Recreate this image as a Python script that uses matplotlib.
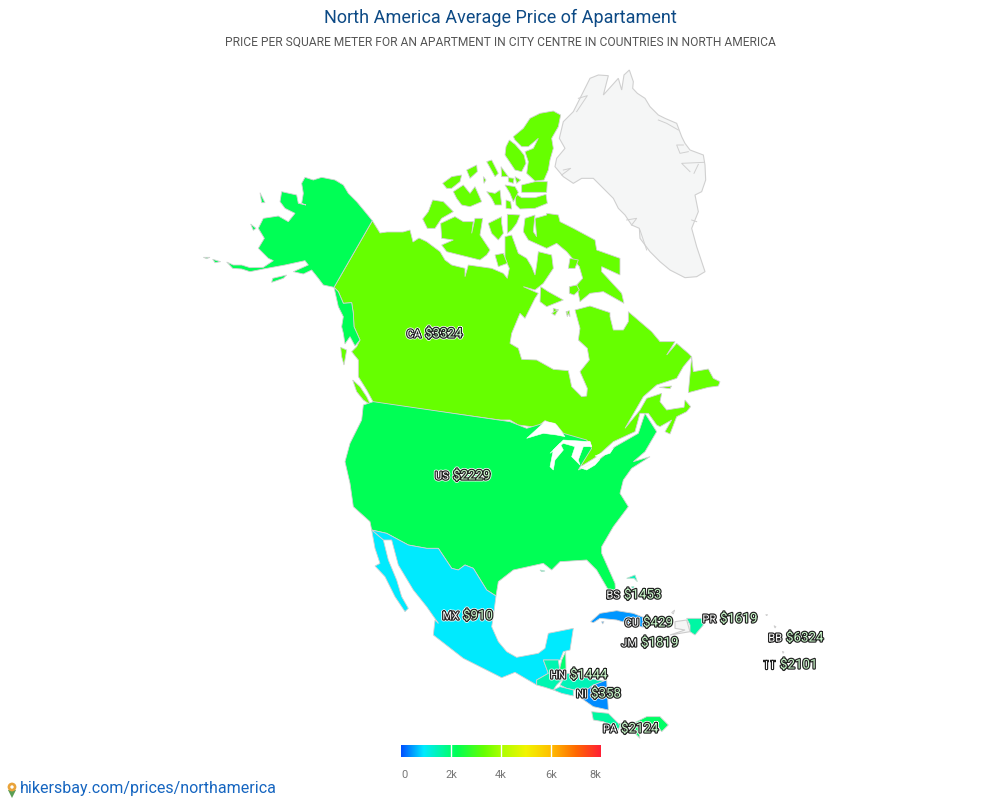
import numpy as np
import matplotlib
matplotlib.use("Agg")
import matplotlib.pyplot as plt
import matplotlib.patheffects as pe
from matplotlib.colors import LinearSegmentedColormap, Normalize
from matplotlib.patches import Polygon, Circle

plt.rcParams["font.family"] = ["Roboto", "DejaVu Sans"]

# Price data
codes = ["CA", "US", "MX", "BS", "CU", "PR", "JM", "BB", "TT", "HN", "NI", "PA"]
prices = [3324, 2229, 910, 1453, 429, 1619, 1819, 6324, 2101, 1444, 358, 2124]
label_x = [434, 462, 472, 633, 652, 729, 650, 795, 789, 579, 600, 630]
label_y = [334, 476, 616, 595, 623, 619, 643, 638, 665, 675, 694, 729]

# Countries without a label, colour estimated
other_prices = {"GT": 1500, "BZ": 2000, "SV": 1300, "CR": 1650}

# West crop outlines
alaska = [(517,152),(495,125),(470,95),(445,70),(430,45),(405,30),(365,22),(340,30),(315,22),(305,40),
          (310,70),(305,100),(318,105),(295,100),(290,75),(245,65),(240,95),(255,115),(285,130),(265,155),
          (235,138),(190,145),(175,175),(193,205),(175,235),(205,265),(220,272),(190,292),(150,293),(125,285),
          (100,285),(80,276),(98,295),(125,297),(150,305),(190,297),(255,285),(315,272),(325,285),(280,305),
          (310,312),(335,300),(355,325),(370,345),(402,352)]
panhandle = [(402,352),(415,365),(430,400),(455,398),(460,430),(462,470),(480,510),(465,528),(450,500),(435,522),
             (430,490),(425,470),(430,440),(415,410)]
kodiak = [(218,325),(260,315),(250,325),(215,337)]
aleut_a = [(10,262),(30,262),(20,266)]
aleut_b = [(38,268),(62,275),(45,278)]
nunivak = [(152,162),(168,175),(160,181)]
st_lawrence = [(180,68),(195,98),(185,98)]
vancouver_isl = [(458,630),(480,650),(500,680),(512,705),(490,690),(470,665)]
haida_gwaii = [(422,532),(440,540),(432,585),(425,560)]
canada_west = [(520,697),(500,660),(475,620),(475,570),(455,545),(470,530),(480,510),(462,470),(460,430),(455,398),
               (430,400),(415,365),(402,352),(517,152)]

# Arctic crop outlines
canada_arctic = [(-120,384),(-99,381),(-51,381),(-30,375),(-21,411),(-3,399),(20,410),(60,440),(75,465),(95,480),
                 (135,490),(135,515),(145,480),(215,490),(250,505),(262,520),(268,490),(255,460),(255,395),(275,390),
                 (295,445),(320,460),(335,485),(345,510),(350,480),(355,440),(395,450),(400,490),(370,535),(345,555),
                 (310,545),(355,565),(345,580),(315,640)]
ellesmere = [(280,95),(310,70),(330,40),(360,25),(400,18),(422,30),(415,65),(395,100),(400,130),(390,165),
             (385,195),(372,225),(345,228),(320,205),(325,170),(315,140),(340,130),(355,100),(325,125),(305,125),
             (285,105)]
axel_heiberg = [(268,105),(285,118),(300,135),(312,150),(318,175),(305,200),(285,195),(255,150),(258,125)]
devon_a = [(305,240),(345,230),(382,230),(380,262),(340,262),(305,262)]
devon_b = [(285,265),(305,278),(345,278),(378,268),(382,295),(345,310),(300,312),(288,300)]
cornwallis = [(255,240),(285,245),(295,262),(280,290),(270,265)]
little_isl = [(258,285),(272,290),(275,312),(258,310)]
isl_a = [(200,170),(215,165),(235,205),(225,215)]
isl_b = [(243,185),(265,215),(245,215)]
isl_c = [(265,218),(282,220),(280,235),(265,230)]
isl_d = [(285,215),(302,225),(290,235)]
melville_a = [(68,235),(95,215),(125,210),(120,230),(95,250),(80,250)]
melville_b = [(100,260),(130,240),(150,265),(165,245),(185,290),(150,305),(125,300),(110,280)]
byam = [(140,195),(170,180),(172,200),(150,220)]
isl_e = [(190,215),(198,225),(192,235)]
bathurst = [(200,260),(225,265),(240,255),(245,300),(225,300),(215,280)]
banks = [(38,285),(70,290),(100,320),(65,340),(45,370),(22,370),(8,342),(25,320)]
victoria = [(62,355),(105,335),(130,350),(160,350),(155,385),(165,340),(188,340),(180,390),(210,435),(200,450),
            (180,465),(120,450),(80,440),(65,420),(100,405),(65,400)]
prince_wales = [(205,355),(245,335),(245,355),(250,385),(235,405),(215,385)]
somerset = [(262,328),(300,330),(290,355),(275,375),(262,385)]
king_william = [(225,450),(250,445),(262,475),(235,485)]
baffin = [(380,325),(415,330),(420,350),(460,370),(525,405),(530,435),(600,460),(600,510),(545,485),(545,500),
          (605,565),(612,595),(550,560),(510,565),(480,590),(470,540),(488,520),(478,485),(440,440),(410,415),
          (380,430),(325,405),(310,380),(315,340),(345,330),(340,380),(350,395),(345,340),(380,330)]
prince_charles = [(450,460),(475,465),(465,490),(445,490)]
foxe_isl = [(448,545),(470,540),(478,555),(462,570),(448,565)]
southampton = [(362,545),(385,560),(430,585),(380,605),(360,590)]
coats = [(400,610),(415,615),(400,630)]
mansel = [(438,620),(447,620),(442,635)]

# East crop outlines
canada_east = [(60,40),(35,100),(30,130),(55,145),(65,178),(110,180),(160,208),(205,212),(215,260),(245,290),
               (260,288),(262,265),(240,215),(268,180),(262,145),(235,120),(240,85),(225,30),(270,18),(330,38),
               (330,50),(340,90),(370,90),(385,65),(385,35),(455,95),(480,125),(525,125),(500,165),(530,130),
               (565,160),(575,170),(550,200),(530,235),(470,255),(430,290),(375,385),(420,330),(440,295),(485,280),
               (480,305),(500,330),(530,325),(552,322),(555,300),(572,320),(560,335),(530,350),(510,402),(495,395),
               (515,360),(480,380),(470,375),(445,340),(420,340),(405,395),(340,425),(290,470),(245,498),(238,470),
               (250,440),(275,440),(270,425),(200,412),(170,375),(135,362),(110,382),(55,375),(30,360),(0,360)]
newfoundland = [(575,170),(580,215),(625,207),(640,235),(660,245),(655,258),(625,262),(565,278)]
anticosti = [(478,262),(515,258),(510,266)]
hudson_isl_a = [(155,40),(175,28),(165,46)]
hudson_isl_b = [(200,35),(208,32),(210,50)]
lake_superior = [(80,415),(135,365),(165,370),(195,410),(170,405),(130,400)]
lake_michigan = [(150,500),(160,450),(180,430),(190,450),(165,480),(160,510)]
lake_huron = [(150,460),(190,420),(270,425),(275,440),(250,440),(235,480),(240,495),(215,470),(225,440),(190,430)]
lake_erie = [(245,505),(300,478),(285,495),(260,510)]
lake_ontario = [(285,468),(340,445),(330,460),(295,470)]

# Middle crop outlines
usa = [(130,35),(540,95),(590,115),(640,100),(700,130),(770,150),(785,175),(760,215),(745,240),(800,215),
       (855,170),(925,130),(945,70),(980,125),(945,185),(910,215),(960,200),(905,235),(880,270),(870,310),
       (895,350),(850,410),(815,470),(815,490),(855,580),(858,622),(835,600),(800,540),(770,510),(690,515),
       (665,540),(640,520),(550,540),(505,575),(498,618),(470,600),(430,535),(405,525),(385,540),(365,535),
       (325,475),(290,475),(235,465),(170,430),(125,420),(120,395),(70,350),(60,280),(45,215),(60,160),
       (95,90),(100,45)]
mexico_north = [(125,420),(170,430),(235,465),(290,475),(325,475),(365,535),(385,540),(405,525),(430,535),(470,600),
                (498,618),(490,680)]
mexico_west = [(325,700),(290,650),(250,600),(205,525),(185,450),(160,450)]
baja = [(125,420),(135,475),(150,520),(135,528),(165,560),(195,620),(225,665),(235,655),(215,620),(200,570),
        (175,510),(165,470),(160,450)]

# Central America crop outlines
mexico_south = [(215,50),(235,95),(260,125),(290,142),(355,130),(375,115),(385,70),(460,55),(450,120),(430,125),
                (420,150),(370,150),(385,190),(350,210),(350,225),(285,187),(245,203),(130,145),(40,75),(45,30)]
guatemala = [(370,150),(415,150),(420,185),(440,195),(410,225),(400,240),(375,232),(350,225),(350,210),(385,190)]
belize = [(418,180),(425,150),(437,125),(438,180)]
honduras = [(440,190),(470,190),(510,205),(560,215),(520,225),(500,240),(465,240),(440,235),(420,225)]
el_salvador = [(400,240),(420,230),(460,240),(460,258),(425,250)]
nicaragua = [(560,210),(565,300),(520,290),(470,255),(500,240),(520,225)]
costa_rica = [(515,305),(565,310),(600,345),(595,360),(550,335),(520,330)]
panama = [(595,340),(640,340),(680,320),(720,320),(745,345),(725,365),(710,345),(680,340),(655,360),(660,385),
          (640,365),(610,370)]

# Caribbean crop outlines
cuba = [(272,155),(300,130),(350,122),(400,130),(450,150),(445,175),(400,165),(350,150),(300,145),(280,158)]
isle_youth = [(305,155),(312,155),(308,162)]
dominican = [(560,145),(610,145),(610,165),(585,195),(570,185),(570,165)]
haiti = [(525,155),(560,150),(570,185),(510,195),(555,180),(525,175)]
bahamas_a = [(380,25),(405,15),(412,35),(402,25)]
bahamas_b = [(395,50),(402,50),(400,62)]
bahamas_c = [(120,0),(135,3),(125,5)]
turks = [(515,128),(524,120),(520,132)]
lesser_a = [(797,134),(803,134),(800,137)]
lesser_b = [(822,167),(828,170),(825,174)]
lesser_c = [(847,244),(852,246),(849,250)]

# Greenland crop outlines
greenland = [(238,15),(250,50),(248,70),(262,85),(285,100),(300,125),(325,150),(345,160),(380,175),(395,215),
             (405,235),(420,255),(460,270),(465,300),(467,345),(455,380),(435,390),(445,440),(425,490),(440,545),
             (465,620),(440,635),(405,638),(360,615),(330,590),(300,560),(270,520),(268,490),(245,480),(225,450),
             (205,430),(190,400),(160,370),(130,340),(95,340),(70,355),(40,335),(15,305),(20,280),(45,250),
             (28,220),(40,170),(70,140),(90,100),(105,70),(120,40),(145,30),(175,32),(160,90),(205,40),
             (215,75),(222,30)]
fjords = [[(400,240),(380,240),(390,265),(415,260)], [(462,292),(395,295),(420,320)], [(445,298),(432,325)],
          [(270,495),(290,555)], [(85,100),(112,92),(80,140)], [(40,315),(62,310),(35,330)],
          [(325,165),(350,175),(385,195)], [(425,465),(440,470)], [(230,465),(260,460),(245,480)]]

# Colour scale
scale_values = [0, 900, 2000, 2229, 3324, 4000, 5000, 6000, 7000, 8000]
scale_colors = ["#0050ff", "#00eaff", "#00ff70", "#00ff55", "#66ff00", "#aaff00",
                "#f2f500", "#ffbf00", "#ff6a00", "#ff2035"]
scale_ticks = [0, 2000, 4000, 6000, 8000]
scale_tick_labels = ["0", "2k", "4k", "6k", "8k"]

norm = Normalize(0, 8000)
cmap = LinearSegmentedColormap.from_list(
    "price", [(v / 8000, c) for v, c in zip(scale_values, scale_colors)])
price_of = dict(zip(codes, prices))
price_of.update(other_prices)


def crop(pts, ox, oy):
    return [(ox + x / 3, oy + y / 3) for x, y in pts]


def west(pts):
    return crop(pts, 200, 170)


def arctic(pts):
    return crop(pts, 420, 105)


def east(pts):
    return crop(pts, 500, 300)


def middle(pts):
    return crop(pts, 330, 390)


def central(pts):
    return crop(pts, 420, 610)


def carib(pts):
    return crop(pts, 500, 570)


fig = plt.figure(figsize=(10, 8), dpi=100)
ax = fig.add_axes([0, 0, 1, 1])
ax.set_xlim(0, 1000)
ax.set_ylim(800, 0)
ax.axis("off")


def draw(pts, color, edge="#d2d2d2", lw=0.6, z=2):
    ax.add_patch(Polygon(pts, closed=True, facecolor=color, edgecolor=edge, linewidth=lw, zorder=z))


def price_color(code):
    return cmap(norm(price_of[code]))


# Greenland and other countries with no data
draw(crop(greenland, 550, 65), "#f5f6f6", "#d0d0d0", 0.8)
for fjord in fjords:
    xs, ys = zip(*crop(fjord, 550, 65))
    ax.plot(xs, ys, color="#d0d0d0", linewidth=0.7, zorder=3)
draw(carib(haiti), "#f5f6f6", "#cccccc", 0.8)
for shape in [turks, lesser_a, lesser_b, lesser_c]:
    draw(carib(shape), "#f2f4f3", "#cccccc", 0.6)

# Canada
draw(arctic(canada_arctic) + east(canada_east) + west(canada_west), price_color("CA"))
for shape in [ellesmere, axel_heiberg, devon_a, devon_b, cornwallis, little_isl, isl_a, isl_b, isl_c, isl_d,
              melville_a, melville_b, byam, isl_e, bathurst, banks, victoria, prince_wales, somerset, king_william,
              baffin, prince_charles, foxe_isl, southampton, coats, mansel]:
    draw(arctic(shape), price_color("CA"))
for shape in [newfoundland, anticosti, hudson_isl_a, hudson_isl_b]:
    draw(east(shape), price_color("CA"))
for shape in [vancouver_isl, haida_gwaii]:
    draw(west(shape), price_color("CA"))

# United States
for shape in [alaska, panhandle, kodiak, aleut_a, aleut_b, nunivak, st_lawrence]:
    draw(west(shape), price_color("US"))
draw(middle(usa), price_color("US"))
for lake in [lake_superior, lake_michigan, lake_huron, lake_erie, lake_ontario]:
    draw(east(lake), "white", "white", 0.4, z=3)

# Mexico and Central America
draw(middle(mexico_north) + central(mexico_south) + middle(mexico_west), price_color("MX"))
draw(middle(baja), price_color("MX"))
draw(central(guatemala), price_color("GT"))
draw(central(belize), price_color("BZ"))
draw(central(honduras), price_color("HN"))
draw(central(el_salvador), price_color("SV"))
draw(central(nicaragua), price_color("NI"))
draw(central(costa_rica), price_color("CR"))
draw(central(panama), price_color("PA"))

# Caribbean
draw(carib(cuba), price_color("CU"))
draw(carib(isle_youth), price_color("CU"))
draw(carib(dominican), price_color("PR"))
for shape in [bahamas_a, bahamas_b, bahamas_c]:
    draw(carib(shape), price_color("BS"), "#bbddcc", 0.6)

# Labels
halo = [pe.withStroke(linewidth=2.8, foreground="white"), pe.withStroke(linewidth=1.7, foreground="#222222")]
for code, price, x, y in zip(codes, prices, label_x, label_y):
    ax.text(x - 13, y + 0.5, code, ha="right", va="center", fontsize=8, color="white", path_effects=halo, zorder=6)
    ax.text(x - 9, y, f"${price}", ha="left", va="center", fontsize=9.6, color="#c9f7c9", path_effects=halo, zorder=6)

# Titles
ax.text(500, 18, "North America Average Price of Apartament", ha="center", va="center", fontsize=13, color="#0d4a85")
ax.text(500, 42, "PRICE PER SQUARE METER FOR AN APARTMENT IN CITY CENTRE IN COUNTRIES IN NORTH AMERICA",
        ha="center", va="center", fontsize=8.63, color="#555555")

# Footer with pin
ax.text(20, 789, "hikersbay.com/prices/northamerica", ha="left", va="center", fontsize=11.5, color="#1565c0")
ax.add_patch(Polygon([(8, 790), (16, 790), (12, 798)], closed=True, facecolor="#5a9e55", edgecolor="none"))
ax.add_patch(Circle((12, 787), 4.4, facecolor="#e9a33a", edgecolor="none"))
ax.add_patch(Circle((12, 787), 1.7, facecolor="white", edgecolor="none"))

# Colour bar
cax = fig.add_axes([0.401, 1 - 757 / 800, 0.2, 12 / 800])
gradient = np.linspace(0, 8000, 256).reshape(1, -1)
cax.imshow(gradient, aspect="auto", cmap=cmap, norm=norm, extent=[0, 8000, 0, 1])
for t in scale_ticks[1:-1]:
    cax.axvline(t, color="white", linewidth=1)
cax.set_yticks([])
cax.set_xticks(scale_ticks)
cax.set_xticklabels(scale_tick_labels, fontsize=8, color="#777777")
cax.get_xticklabels()[0].set_ha("left")
cax.get_xticklabels()[-1].set_ha("right")
cax.tick_params(axis="x", length=0, pad=9)
for spine in cax.spines.values():
    spine.set_visible(False)

fig.savefig("out.png", dpi=100)
